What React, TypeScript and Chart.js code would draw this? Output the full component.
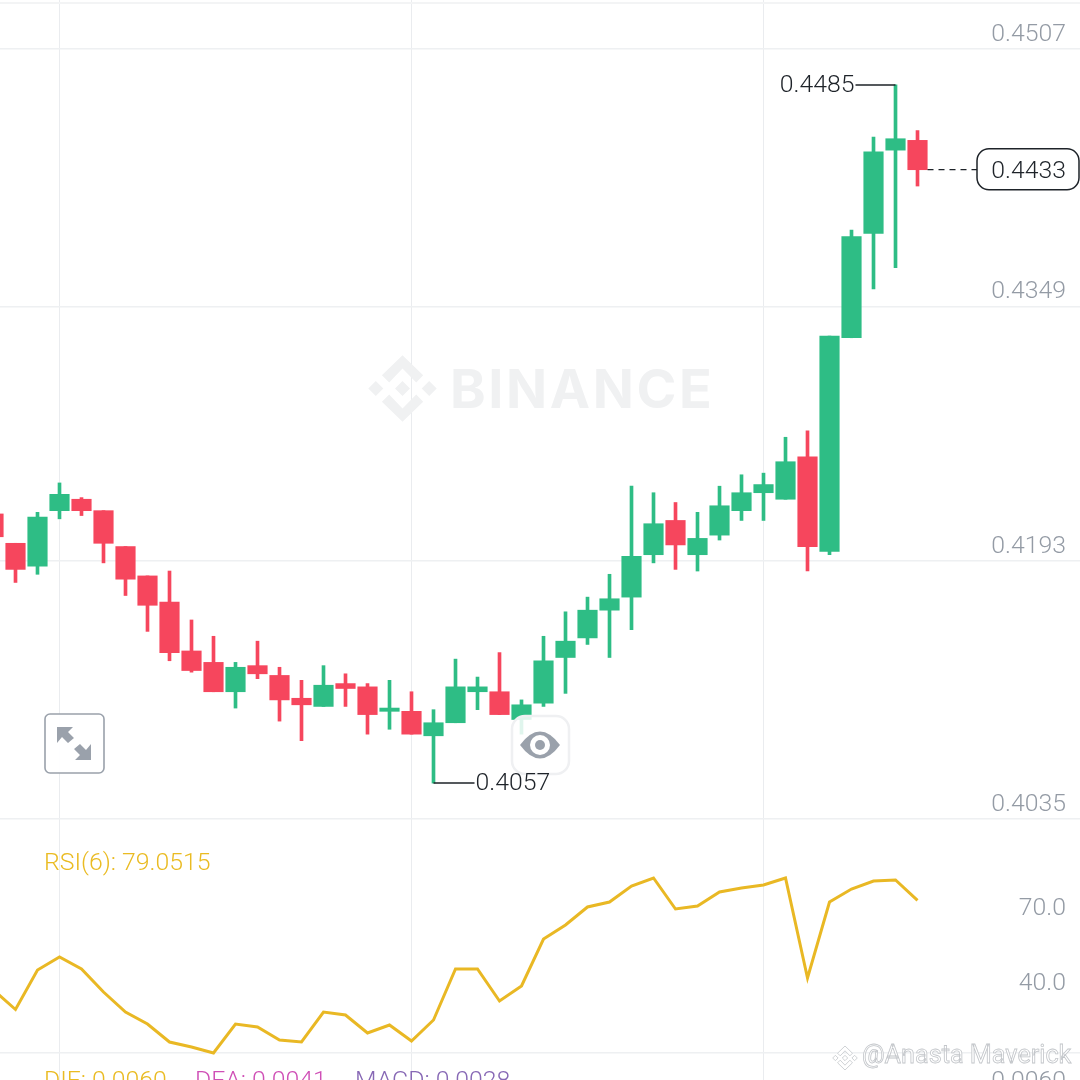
import React, { useEffect, useRef } from "react";
import { Chart, registerables } from "chart.js";

Chart.register(...registerables);

const opens = [
  0.4222, 0.4204, 0.4190, 0.4224, 0.4231, 0.4224, 0.4202, 0.4184, 0.4168, 0.4138, 0.4131,
  0.4113, 0.4129, 0.4123, 0.4109, 0.4104, 0.4118, 0.4116, 0.4101, 0.4101, 0.4086, 0.4094,
  0.4113, 0.4113, 0.4096, 0.4106, 0.4134, 0.4146, 0.4163, 0.4171, 0.4197, 0.4218, 0.4197,
  0.4209, 0.4224, 0.4235, 0.4231, 0.4257, 0.4199, 0.4330, 0.4394, 0.4445, 0.4451,
];
const highs = [
  0.4225, 0.4204, 0.4223, 0.4241, 0.4232, 0.4224, 0.4202, 0.4184, 0.4187, 0.4157, 0.4147,
  0.4131, 0.4144, 0.4128, 0.4120, 0.4129, 0.4124, 0.4118, 0.4120, 0.4113, 0.4102, 0.4133,
  0.4122, 0.4137, 0.4108, 0.4147, 0.4162, 0.4171, 0.4185, 0.4239, 0.4235, 0.4229, 0.4223,
  0.4239, 0.4246, 0.4247, 0.4269, 0.4273, 0.4331, 0.4396, 0.4453, 0.4485, 0.4457,
];
const lows = [
  0.4205, 0.4180, 0.4185, 0.4219, 0.4221, 0.4192, 0.4172, 0.4150, 0.4132, 0.4125, 0.4113,
  0.4103, 0.4121, 0.4095, 0.4083, 0.4104, 0.4104, 0.4087, 0.4090, 0.4087, 0.4057, 0.4094,
  0.4102, 0.4099, 0.4087, 0.4104, 0.4112, 0.4142, 0.4134, 0.4151, 0.4192, 0.4188, 0.4187,
  0.4206, 0.4218, 0.4218, 0.4231, 0.4187, 0.4197, 0.4330, 0.4360, 0.4373, 0.4423,
];
const closes = [
  0.4208, 0.4188, 0.4220, 0.4234, 0.4224, 0.4204, 0.4182, 0.4166, 0.4137, 0.4126, 0.4113,
  0.4128, 0.4124, 0.4108, 0.4105, 0.4117, 0.4115, 0.4099, 0.4103, 0.4087, 0.4094, 0.4116,
  0.4116, 0.4099, 0.4105, 0.4132, 0.4144, 0.4163, 0.4170, 0.4196, 0.4216, 0.4203, 0.4207,
  0.4227, 0.4235, 0.4240, 0.4254, 0.4202, 0.4331, 0.4392, 0.4444, 0.4452, 0.4433,
];
const rsi = [
  43.2, 35.4, 51.2, 56.4, 51.6, 42.4, 34.4, 29.6, 22.4, 20.4, 18.0, 29.6, 28.4, 23.2, 22.4,
  34.4, 33.2, 26.0, 29.2, 22.8, 31.2, 51.6, 51.6, 38.8, 44.8, 63.6, 69.2, 76.4, 78.4, 84.8,
  88.0, 75.6, 76.8, 82.4, 84.0, 85.2, 88.0, 48.0, 78.4, 83.6, 86.8, 87.2, 79.05,
];

const priceTicks = [0.4507, 0.4349, 0.4193, 0.4035];
const rsiTicks = [70, 40, 18];
const gridCandles = [3, 19, 35];

const GREEN = "#2ebd85";
const RED = "#f6465d";
const GRID = "#eef0f2";
const MUTED = "#949ba5";
const INK = "#1e2329";
const FONT = "Roboto, sans-serif";

const isUp = (i: number) => closes[i] >= opens[i];
const candleColors = opens.map((_, i) => (isUp(i) ? GREEN : RED));

// the axes sit on top of the plot, they must not eat any room from it
const flatAxis = (axis: any) => {
  axis.width = axis.isHorizontal() ? axis.width : 0;
  axis.height = axis.isHorizontal() ? 0 : axis.height;
  axis.paddingTop = 0;
  axis.paddingBottom = 0;
  axis.paddingLeft = 0;
  axis.paddingRight = 0;
};

// binance mark, unit coords around its centre
function logoPath(ctx: any, cx: number, cy: number, s: number) {
  const poly = (pts: number[][]) => {
    ctx.moveTo(cx + pts[0][0] * s, cy + pts[0][1] * s);
    pts.slice(1).forEach((p) => ctx.lineTo(cx + p[0] * s, cy + p[1] * s));
    ctx.closePath();
  };
  const diamond = (dx: number) =>
    poly([[dx - 7.5, 0], [dx, -7.5], [dx + 7.5, 0], [dx, 7.5]]);
  ctx.beginPath();
  diamond(-26.7);
  diamond(0);
  diamond(26.7);
  [1, -1].forEach((d) =>
    poly([
      [0, -33.3 * d],
      [20.7, -13.3 * d],
      [13.7, -6 * d],
      [0, -20 * d],
      [-13.3, -6 * d],
      [-20.6, -13.3 * d],
    ])
  );
}

function roundBox(ctx: any, x: number, y: number, w: number, h: number, r: number) {
  ctx.beginPath();
  ctx.roundRect(x, y, w, h, r);
}

const underlay = {
  id: "underlay",
  beforeDatasetsDraw(chart: any) {
    const { ctx } = chart;
    ctx.save();
    ctx.fillStyle = "#f3f4f5";
    ctx.fillRect(0, 2, 1080, 2);
    logoPath(ctx, 402.5, 388.5, 1);
    ctx.fillStyle = "#f0f1f2";
    ctx.fill();
    ctx.font = `700 54px Inter, ${FONT}`;
    ctx.letterSpacing = "2.6px";
    ctx.textBaseline = "alphabetic";
    ctx.textAlign = "left";
    ctx.fillText("BINANCE", 450, 408);
    ctx.restore();
  },
};

const overlay = {
  id: "overlay",
  afterDatasetsDraw(chart: any) {
    const { ctx, scales } = chart;
    const px = scales.x;
    const py = scales.yPrice;
    const last = opens.length - 1;
    ctx.save();
    ctx.textBaseline = "middle";
    ctx.font = `300 24.8px ${FONT}`;

    // high / low callouts
    const hi = Math.max(...highs);
    const lo = Math.min(...lows);
    const hiX = px.getPixelForValue(highs.indexOf(hi));
    const loX = px.getPixelForValue(lows.indexOf(lo));
    ctx.strokeStyle = INK;
    ctx.lineWidth = 1.5;
    ctx.beginPath();
    ctx.moveTo(hiX, py.getPixelForValue(hi));
    ctx.lineTo(hiX - 40, py.getPixelForValue(hi));
    ctx.moveTo(loX, py.getPixelForValue(lo));
    ctx.lineTo(loX + 41, py.getPixelForValue(lo));
    ctx.stroke();
    ctx.fillStyle = INK;
    ctx.textAlign = "right";
    ctx.fillText(hi.toFixed(4), hiX - 41, py.getPixelForValue(hi) + 0.5);

    // last price tag
    const lastY = py.getPixelForValue(closes[last]);
    ctx.lineWidth = 1.2;
    ctx.setLineDash([6, 5]);
    ctx.beginPath();
    ctx.moveTo(px.getPixelForValue(last) + 10, lastY);
    ctx.lineTo(977, lastY);
    ctx.stroke();
    ctx.setLineDash([]);
    roundBox(ctx, 977, lastY - 21, 102, 41, 12);
    ctx.fillStyle = "#fff";
    ctx.fill();
    ctx.lineWidth = 1.5;
    ctx.stroke();
    ctx.fillStyle = INK;
    ctx.textAlign = "right";
    ctx.fillText(closes[last].toFixed(4), 1066, lastY + 2);

    // indicator headers
    ctx.textAlign = "left";
    ctx.fillStyle = "#eabb22";
    ctx.fillText("RSI(6): 79.0515", 44, 863.5);
    ctx.fillText("DIF: 0.0060", 44, 1082);
    ctx.fillStyle = "#cf4fb6";
    ctx.fillText("DEA: 0.0041", 195, 1082);
    ctx.fillStyle = "#8768b5";
    ctx.fillText("MACD: 0.0028", 355, 1082);
    ctx.fillStyle = MUTED;
    ctx.textAlign = "right";
    ctx.fillText("0.0060", 1066, 1082);

    // expand button
    roundBox(ctx, 45, 714, 59, 59, 5);
    ctx.fillStyle = "rgba(255,255,255,0.95)";
    ctx.fill();
    ctx.strokeStyle = "#9aa1ab";
    ctx.lineWidth = 1.6;
    ctx.stroke();
    ctx.fillStyle = "#9aa1ab";
    ctx.beginPath();
    ctx.moveTo(57, 727);
    ctx.lineTo(73, 727);
    ctx.lineTo(68, 732);
    ctx.lineTo(74, 738);
    ctx.lineTo(68, 743);
    ctx.lineTo(62, 737);
    ctx.lineTo(57, 743);
    ctx.closePath();
    ctx.moveTo(91, 760);
    ctx.lineTo(75, 760);
    ctx.lineTo(80, 755);
    ctx.lineTo(74, 749);
    ctx.lineTo(80, 744);
    ctx.lineTo(86, 750);
    ctx.lineTo(91, 744);
    ctx.closePath();
    ctx.fill();

    // eye button
    roundBox(ctx, 512, 716, 57, 58, 13);
    ctx.fillStyle = "rgba(255,255,255,0.85)";
    ctx.fill();
    ctx.strokeStyle = "#eff0f2";
    ctx.lineWidth = 2.5;
    ctx.stroke();
    ctx.fillStyle = "#9aa1ab";
    ctx.beginPath();
    ctx.moveTo(520, 745);
    ctx.quadraticCurveTo(540, 718, 560, 745);
    ctx.quadraticCurveTo(540, 772, 520, 745);
    ctx.fill();
    ctx.fillStyle = "#fff";
    ctx.beginPath();
    ctx.arc(540, 745, 10, 0, Math.PI * 2);
    ctx.fill();
    ctx.fillStyle = "#9aa1ab";
    ctx.beginPath();
    ctx.arc(540, 745, 5, 0, Math.PI * 2);
    ctx.fill();

    // low label goes over the button, as in the app
    ctx.fillStyle = INK;
    ctx.textAlign = "left";
    ctx.fillText(lo.toFixed(4), loX + 42, py.getPixelForValue(lo) + 1);

    // author stamp
    ctx.lineWidth = 0.8;
    ctx.strokeStyle = "#c3c6ca";
    logoPath(ctx, 845, 1058, 0.36);
    ctx.fillStyle = "#fff";
    ctx.fill();
    ctx.stroke();
    ctx.textAlign = "left";
    ctx.font = `400 25.2px ${FONT}`;
    ctx.fillText("@Anasta Maverick", 862, 1057);
    ctx.strokeText("@Anasta Maverick", 862, 1057);
    ctx.restore();
  },
};

export default function App() {
  const canvasRef: any = useRef(null);

  useEffect(() => {
    const slots = opens.map((_, i) => i);
    const chart = new Chart(canvasRef.current, {
      type: "bar",
      data: {
        datasets: [
          {
            type: "bar",
            yAxisID: "yPrice",
            data: slots.map((i) => ({ x: i, y: [lows[i], highs[i]] })),
            backgroundColor: candleColors,
            barThickness: 3,
            grouped: false,
            order: 2,
          },
          {
            type: "bar",
            yAxisID: "yPrice",
            data: slots.map((i) => ({ x: i, y: [opens[i], closes[i]] })),
            backgroundColor: candleColors,
            barThickness: 19.5,
            grouped: false,
            order: 1,
          },
          {
            type: "line",
            yAxisID: "yRsi",
            data: slots.map((i) => ({ x: i, y: rsi[i] })),
            borderColor: "#e9b824",
            borderWidth: 3,
            pointRadius: 0,
            tension: 0,
            order: 0,
          },
        ],
      } as any,
      options: {
        responsive: false,
        animation: false,
        layout: { padding: 0 },
        plugins: { legend: { display: false }, tooltip: { enabled: false } },
        scales: {
          x: {
            type: "linear",
            offset: false,
            min: 0.2955,
            max: 49.386,
            border: { display: false },
            grid: { color: "#eaecef", lineWidth: 1, drawTicks: false, offset: false },
            ticks: { display: false, autoSkip: false },
            afterBuildTicks: (axis: any) => {
              axis.ticks = gridCandles.map((value) => ({ value }));
            },
            afterFit: flatAxis,
          },
          yPrice: {
            axis: "y",
            type: "linear",
            position: "right",
            min: 0.3875,
            max: 0.453704,
            border: { display: false },
            grid: { color: GRID, lineWidth: 1.5, drawTicks: false },
            ticks: {
              mirror: true,
              padding: -14,
              labelOffset: -14.5,
              autoSkip: false,
              color: MUTED,
              font: { family: FONT, size: 24.8, weight: "300" },
              callback: (v: any) => Number(v).toFixed(4),
            },
            afterBuildTicks: (axis: any) => {
              axis.ticks = priceTicks.map((value) => ({ value }));
            },
            afterFit: flatAxis,
          },
          yRsi: {
            axis: "y",
            type: "linear",
            position: "right",
            min: 7.2,
            max: 439.2,
            border: { display: false },
            grid: {
              color: (c: any) => (c.tick && c.tick.value === 18 ? GRID : "transparent"),
              lineWidth: 1.5,
              drawTicks: false,
            },
            ticks: {
              mirror: true,
              padding: -14,
              labelOffset: -14.5,
              autoSkip: false,
              color: MUTED,
              font: { family: FONT, size: 24.8, weight: "300" },
              callback: (v: any) => (Number(v) === 18 ? "" : Number(v).toFixed(1)),
            },
            afterBuildTicks: (axis: any) => {
              axis.ticks = rsiTicks.map((value) => ({ value }));
            },
            afterFit: flatAxis,
          },
        },
      } as any,
      plugins: [underlay, overlay],
    });

    return () => {
      chart.destroy();
    };
  }, []);

  return (
    <div style={{ position: "absolute", left: 0, top: 0, width: 1080, height: 1080, overflow: "hidden", background: "#fff" }}>
      <canvas ref={canvasRef} width={1080} height={1080} style={{ display: "block" }} />
    </div>
  );
}
